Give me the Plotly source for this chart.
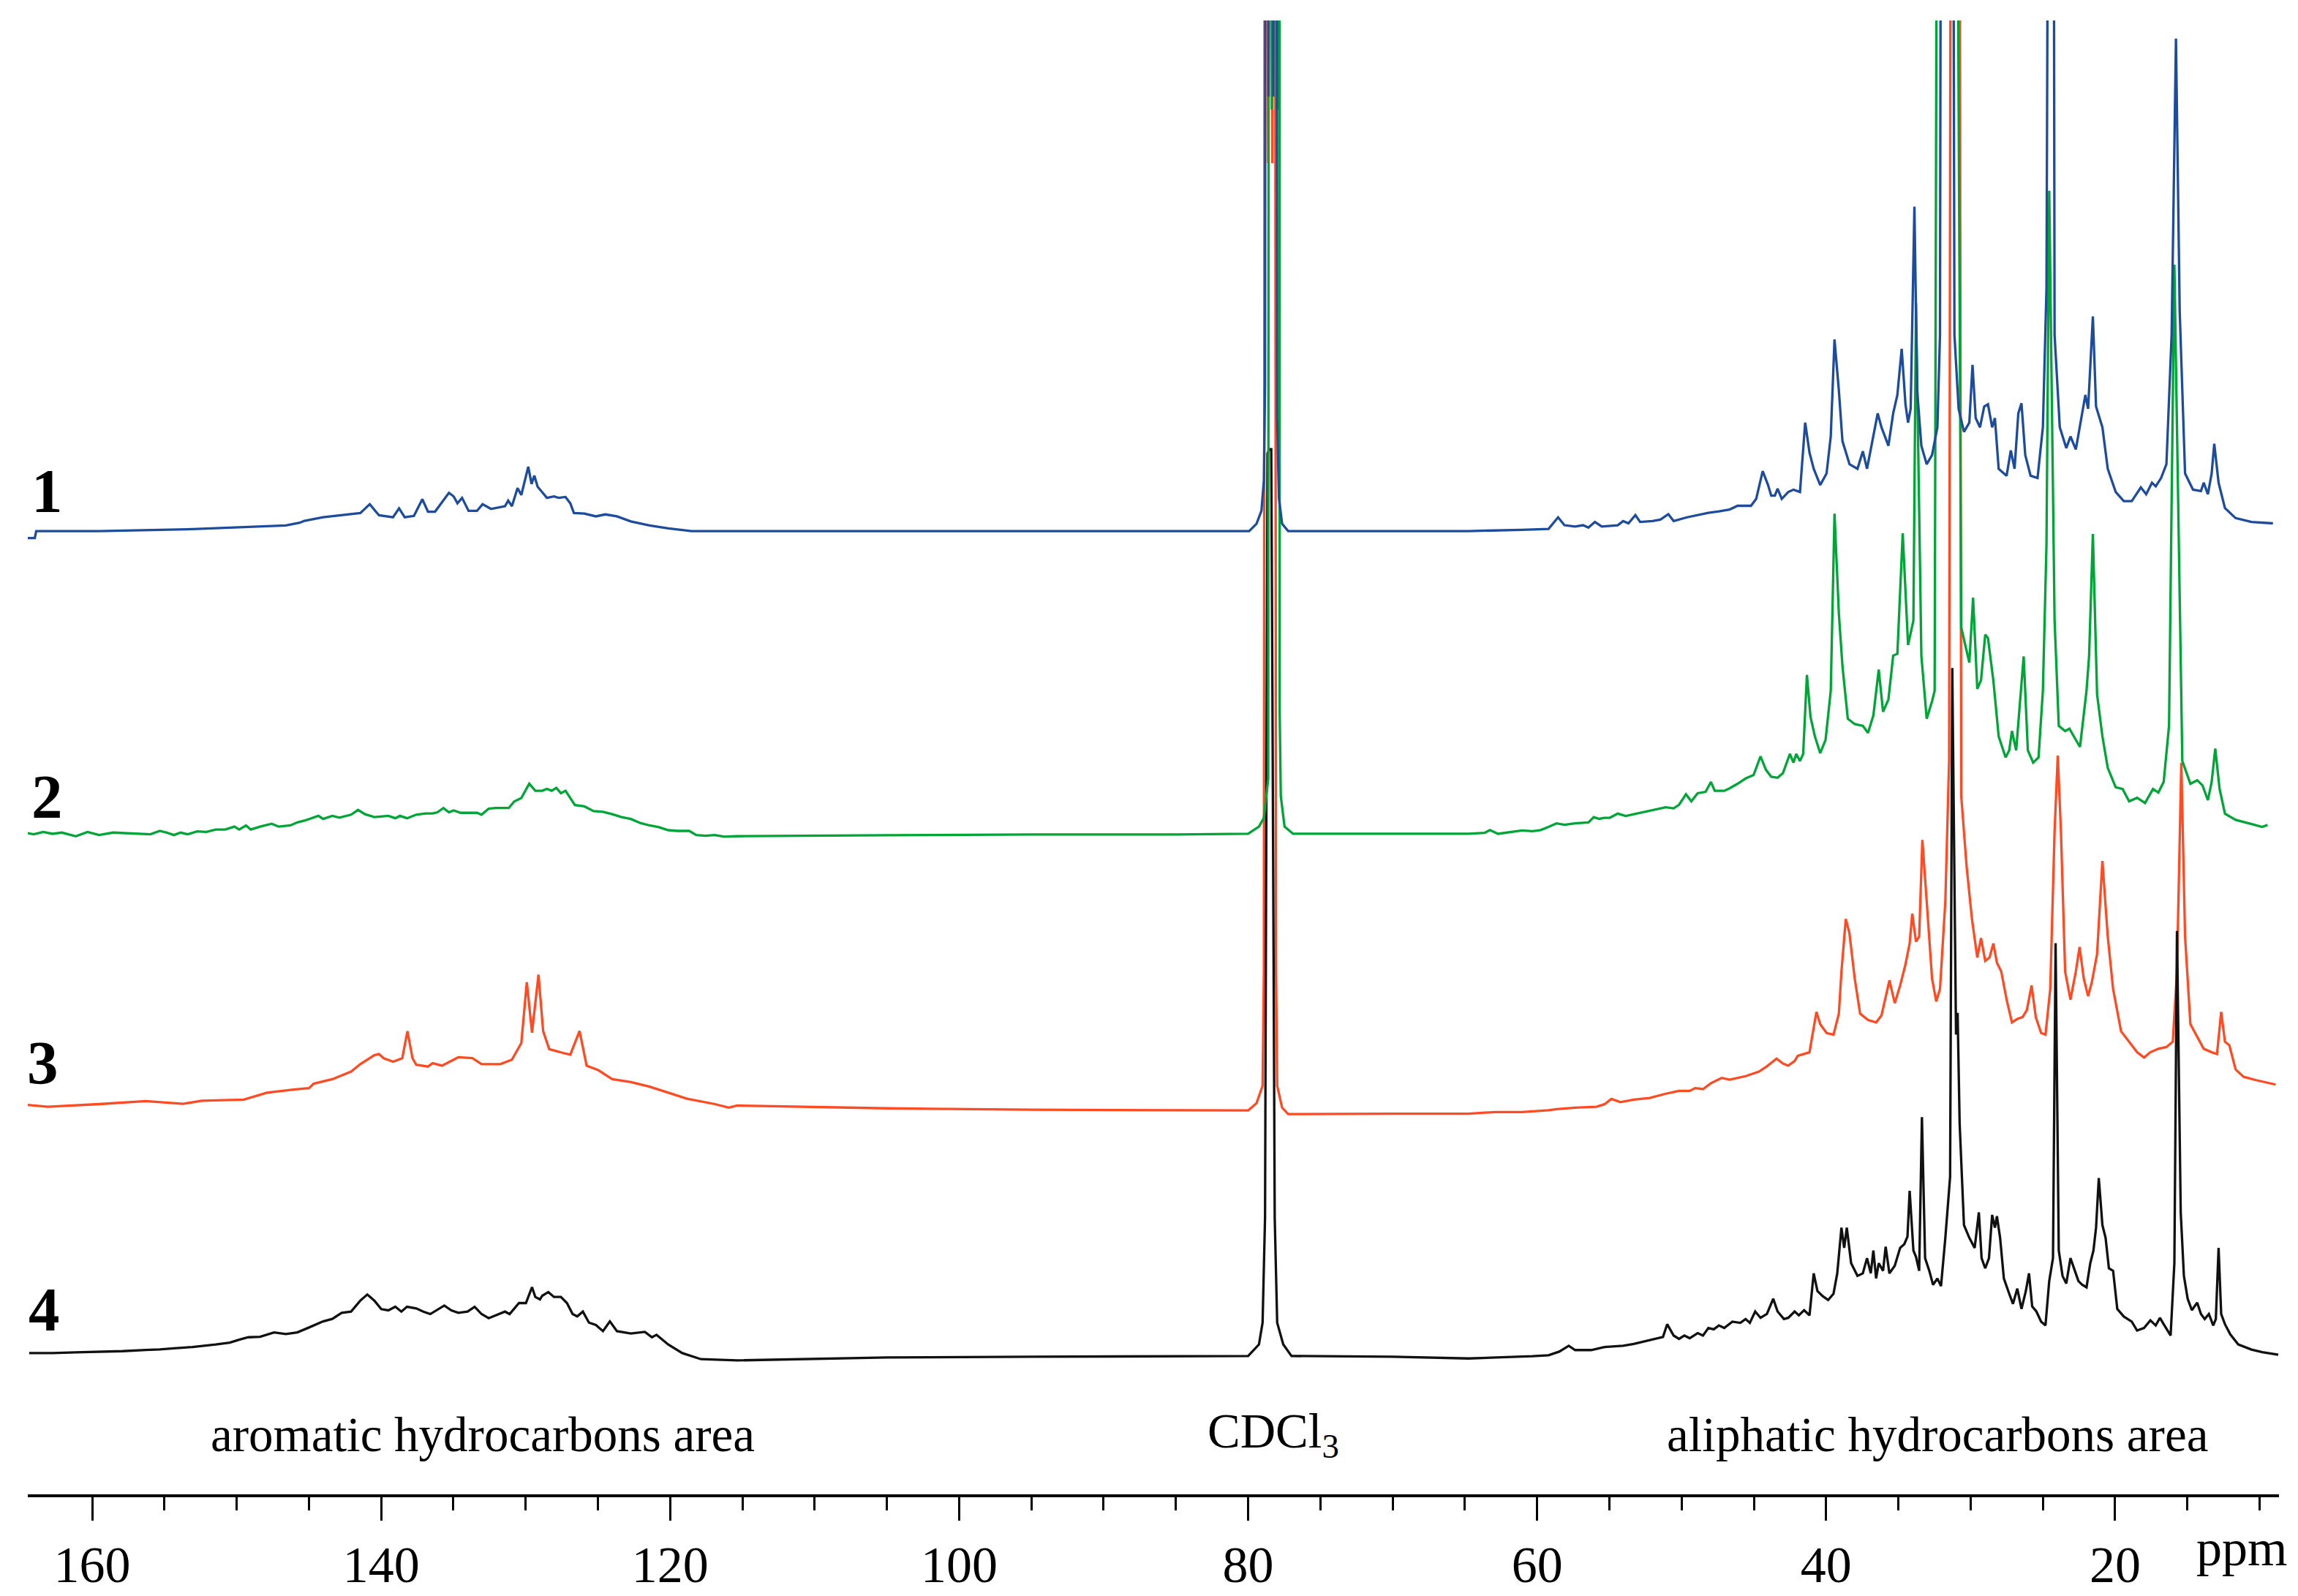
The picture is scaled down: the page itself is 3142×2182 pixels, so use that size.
import plotly.graph_objects as go

# ---------------- data (ppm, intensity above own baseline, arbitrary units) ----------------
SPECTRUM_LABELS = ["1", "2", "3", "4"]
SPECTRUM_COLORS = ["#1E4C9C", "#00A537", "#FF4B24", "#111111"]
BASELINE_OFFSETS = [1330, 912, 538, 195]

S1 = [  # blue
    (164.74, -9.6), (163.97, -9.6), (163.87, 0), (159.52, 0), (153.06, 2.7), (146.60, 7.7),
    (145.64, 11.5), (145.31, 14.2), (144.02, 19.1), (141.44, 24.9), (140.79, 37.1), (140.15, 21.8),
    (139.18, 19.1), (138.76, 31.4), (138.37, 19.1), (137.73, 21.0), (137.15, 44.0), (136.76, 26.8),
    (136.27, 26.8), (135.31, 52.8), (134.98, 47.8), (134.72, 38.3), (134.40, 45.9), (133.95, 27.9),
    (133.37, 27.9), (132.98, 37.1), (132.40, 30.6), (131.43, 34.4), (131.21, 42.1), (130.95, 34.4),
    (130.56, 59.3), (130.30, 49.8), (129.82, 88.8), (129.59, 65.1), (129.40, 76.5), (129.17, 61.2),
    (128.85, 53.6), (128.53, 45.9), (128.04, 47.8), (127.72, 45.9), (127.24, 47.1), (126.91, 38.3),
    (126.66, 24.9), (125.94, 24.1), (125.14, 20.3), (124.49, 23.0), (123.69, 20.3), (122.72, 13.4),
    (121.43, 7.7), (120.13, 3.8), (118.52, 0), (115.36, 0), (100, 0), (85, 0), (80.6, 0),
    (79.93, 0), (79.42, 10), (79.08, 28), (78.91, 70), (78.83, 204), (78.74, 2500), (78.58, 600),
    (78.42, 2500), (78.26, 600), (78.06, 2500), (77.99, 155), (77.87, 46), (77.65, 10), (77.23, 0),
    (70, 0), (64.74, 0), (61.05, 1.7), (59.21, 3), (58.55, 19), (58.11, 8.1), (57.37, 6.2),
    (56.82, 8.1), (56.45, 4.9), (56.00, 12.6), (55.53, 6.2), (54.42, 8.1), (54.05, 13.8),
    (53.68, 10.7), (53.20, 22.1), (52.87, 12.6), (52.02, 13.8), (51.47, 15.8), (50.92, 23.4),
    (50.55, 13.8), (49.63, 19), (48.89, 22.1), (48.15, 25.3), (47.42, 27.2), (46.68, 29.8),
    (46.13, 34.9), (45.20, 34.9), (44.84, 44.5), (44.39, 82.7), (44.02, 63.6), (43.80, 48.9),
    (43.55, 48.9), (43.36, 58.5), (43.07, 44.5), (42.62, 54), (42.26, 57.2), (41.81, 54),
    (41.45, 149.7), (41.15, 108.2), (40.86, 86), (40.41, 63.6), (39.97, 79.5), (39.68, 130.6),
    (39.42, 264.5), (39.12, 194.3), (38.87, 124.2), (38.38, 92.3), (37.83, 86), (37.46, 110.2),
    (37.17, 86), (36.73, 133.8), (36.43, 162.5), (36.17, 143.3), (35.69, 117.8), (35.36, 162.5),
    (35.07, 188), (34.77, 251.7), (34.51, 175.2), (34.33, 149.7), (34.15, 168.8), (33.89, 448),
    (33.70, 194.3), (33.41, 117.8), (33.04, 92.3), (32.67, 105), (32.30, 143.3), (32.12, 270.9),
    (31.93, 2500), (31.38, 2500), (31.12, 270.9), (30.83, 168.8), (30.46, 137), (30.09, 149.7),
    (29.87, 229.4), (29.65, 156.1), (29.35, 143.3), (29.06, 172), (28.80, 175.2), (28.51, 143.3),
    (28.32, 156.1), (28.06, 86), (27.51, 76.4), (27.22, 111.4), (26.96, 86), (26.70, 162.5),
    (26.48, 176.5), (26.22, 105), (25.85, 76.4), (25.37, 73.2), (25.00, 143.3), (24.75, 334.7),
    (24.56, 2500), (24.38, 2500), (24.19, 270.9), (23.83, 143.3), (23.38, 114.6), (23.09, 130.6),
    (22.72, 112.7), (22.35, 156.1), (22.06, 188), (21.87, 168.8), (21.54, 296.4), (21.32, 172),
    (20.88, 143.3), (20.51, 86), (19.96, 54), (19.40, 41.3), (18.85, 41.3), (18.22, 60.4),
    (17.85, 50.8), (17.45, 66.8), (17.19, 61.7), (16.82, 73.2), (16.45, 92.3), (16.09, 270.9),
    (15.79, 680), (15.53, 302.8), (15.16, 79.5), (14.61, 57.2), (14.06, 55.3), (13.87, 66.8),
    (13.58, 50.8), (13.32, 79.5), (13.14, 120.6), (12.84, 66.8), (12.40, 31.7), (11.66, 17.9),
    (10.56, 12.6), (9.08, 10.7),
]

S2 = [  # green
    (164.68, 1.7), (164.04, -0.7), (163.39, 2.6), (162.74, 0), (162.10, 1.7), (161.13, -3.3),
    (160.32, 2.6), (159.52, -1.7), (158.55, 1.7), (157.58, 0.7), (156.61, 0), (155.97, -0.7),
    (155.32, 4.0), (154.84, 1.7), (154.35, -1.7), (153.87, 1.7), (153.38, -0.7), (152.74, 3.3),
    (152.09, 2.6), (151.45, 5.9), (150.80, 5.9), (150.15, 9.9), (149.83, 5.9), (149.35, 11.6),
    (149.03, 5.9), (148.38, 9.9), (147.57, 13.9), (147.09, 9.9), (146.28, 11.6), (145.80, 15.8),
    (145.31, 18.2), (144.67, 23.1), (144.34, 24.8), (144.02, 20.5), (143.38, 24.8), (142.89, 22.4),
    (142.40, 24.8), (142.08, 26.4), (141.60, 33.0), (141.12, 27.1), (140.47, 23.1), (139.99, 23.8),
    (139.50, 24.8), (139.02, 21.5), (138.70, 24.8), (138.21, 21.5), (137.57, 26.4), (136.92, 28.1),
    (136.44, 28.1), (136.11, 29.7), (135.69, 35.6), (135.31, 29.7), (134.98, 32.3), (134.50, 29.0),
    (134.02, 29.0), (133.37, 29.0), (133.05, 26.4), (132.56, 34.7), (132.08, 35.6), (131.17, 35.6),
    (130.79, 44.6), (130.30, 49.5), (129.75, 69.3), (129.33, 59.4), (128.85, 59.4), (128.53, 62.0),
    (128.20, 59.4), (127.88, 63.4), (127.56, 56.1), (127.24, 59.4), (126.59, 39.6), (125.94, 37.9),
    (125.30, 31.4), (124.65, 30.4), (124.01, 27.1), (123.36, 23.1), (122.72, 20.5), (122.07, 14.9),
    (121.43, 11.6), (120.78, 9.2), (120.13, 5.0), (119.49, 4.0), (118.68, 4.0), (118.19, -1.7),
    (117.55, -2.6), (116.91, -1.7), (116.26, -4.0), (115.36, -3.3),
    (105, -2), (95, -1), (85, -1), (80, 0), (79.25, 10), (78.91, 22),
    (78.61, 76), (78.54, 2500), (78.36, 1000), (78.18, 2500), (78.00, 1000), (77.84, 2500),
    (77.82, 172), (77.74, 52), (77.48, 10), (76.89, 0), (70, 0),
    (64.74, 0), (63.63, 1.3), (63.27, 5.2), (62.71, 0), (61.79, 2.7), (61.05, 4.7), (60.32, 3.7),
    (59.76, 5.2), (59.21, 9.5), (58.66, 14.4), (58.11, 12.4), (57.37, 14.4), (56.45, 15.8),
    (56.08, 23.1), (55.71, 20.7), (55.34, 22.1), (54.97, 22.1), (54.42, 27.9), (53.87, 24.6),
    (53.31, 27), (52.58, 30.4), (51.84, 32.8), (51.10, 36.7), (50.55, 35.2), (50.18, 40.1),
    (49.70, 54.6), (49.33, 44.9), (48.89, 56.1), (48.34, 58), (47.97, 71.6), (47.71, 59.4),
    (47.05, 59.4), (46.68, 62.8), (46.13, 69.1), (45.57, 76.4), (45.02, 81.3), (44.54, 107),
    (44.17, 88.5), (43.80, 78.8), (43.36, 77.4), (42.99, 83.7), (42.51, 110.3), (42.26, 98.2),
    (42.07, 110.3), (41.81, 100.6), (41.59, 110.3), (41.33, 219.4), (41.08, 161.2), (40.78, 134.6),
    (40.41, 111.3), (40.04, 129.7), (39.68, 197.6), (39.42, 442), (39.12, 304.2), (38.87, 231.5),
    (38.50, 158.8), (38.02, 151.5), (37.46, 149.1), (37.10, 139.4), (36.73, 163.7), (36.36, 226.7),
    (36.06, 168.5), (35.69, 185.5), (35.36, 246.1), (35.07, 248.5), (34.70, 415), (34.33, 260.6),
    (33.96, 294.5), (33.78, 733), (33.41, 246), (33.04, 158.8), (32.67, 183), (32.49, 197.6),
    (32.19, 2500), (31.20, 2500), (30.65, 284.8), (30.28, 250.9), (30.09, 236.4), (29.83, 326),
    (29.54, 200), (29.28, 212.1), (28.99, 275.1), (28.80, 270.3), (28.43, 212.1), (28.06, 134.6),
    (27.58, 105.5), (27.33, 115.2), (27.14, 141.9), (26.85, 115.2), (26.59, 183), (26.33, 245),
    (26.04, 115.2), (25.67, 98.2), (25.30, 105.5), (25.00, 197.6), (24.75, 400), (24.56, 888),
    (24.19, 294.5), (23.90, 149.1), (23.46, 141.9), (23.16, 145.2), (22.72, 129.7), (22.43, 120),
    (21.98, 197.6), (21.80, 246.1), (21.54, 414), (21.25, 192.7), (20.88, 134.6), (20.51, 91),
    (19.96, 64.3), (19.48, 61.9), (19.03, 44.9), (18.48, 49.8), (17.93, 42.5), (17.38, 61.9),
    (17.01, 57), (16.64, 71.6), (16.27, 149.1), (15.90, 786), (15.35, 100.6), (14.79, 69.1),
    (14.32, 74), (13.95, 66.7), (13.58, 46.4), (13.32, 71.6), (13.07, 117.6), (12.77, 61.9),
    (12.40, 27.9), (11.66, 19.2), (10.56, 13.4), (9.82, 9.5), (9.45, 12.4),
]

S3 = [  # red
    (164.62, 0), (163.07, -2.9), (159.52, 0.8), (156.29, 5), (153.71, 1.2), (152.41, 5.4),
    (149.51, 7), (147.90, 16.6), (145.96, 21.1), (144.99, 22.8), (144.67, 29), (143.38, 35.2),
    (142.08, 45.6), (141.44, 56), (140.47, 68.4), (140.15, 70), (139.83, 64.2), (139.18, 59.3),
    (138.54, 64.2), (138.18, 101.6), (137.83, 64.2), (137.57, 55.1), (136.76, 52.6), (136.44, 57.2),
    (135.79, 53.9), (134.66, 65.5), (133.69, 64.2), (133.05, 56), (131.75, 56), (130.95, 62.2),
    (130.30, 85), (129.92, 169.1), (129.56, 99.5), (129.11, 179.5), (128.79, 101.6), (128.37, 76.7),
    (127.24, 70.5), (126.91, 69.2), (126.27, 101.6), (125.78, 53.9), (124.98, 47.7), (124.01, 35.2),
    (122.72, 31.1), (121.43, 24.9), (120.13, 16.6), (118.84, 8.3), (116.91, 0.8), (115.94, -4.1),
    (115.36, -1.2), (105, -5), (95, -7), (85, -8), (80, -8), (79.42, 2), (79.0, 26),
    (78.91, 184), (78.83, 2500), (78.61, 1300), (78.50, 2500), (78.33, 1300), (78.16, 2500),
    (78.07, 184), (77.99, 26), (77.65, -4), (77.23, -13), (70, -12.5),
    (64.74, -12.5), (62.90, -10.1), (61.05, -10.1), (59.21, -7.6), (58.66, -6.2), (57.37, -4.2),
    (55.89, -2.8), (55.34, 0.6), (54.86, 7.9), (54.24, 3.5), (53.31, 6.9), (52.21, 9.3),
    (51.10, 15.2), (50.18, 19), (49.44, 19), (49.07, 22.9), (48.52, 21.5), (47.97, 29.7),
    (47.23, 37), (46.68, 34.6), (45.57, 39.4), (44.65, 45.7), (44.10, 53), (43.43, 63.6),
    (42.99, 56.8), (42.62, 53.9), (42.18, 60.2), (41.96, 67.5), (41.52, 69.9), (41.15, 72.4),
    (40.86, 106.3), (40.67, 128.1), (40.41, 111.1), (39.97, 99), (39.49, 96.6), (39.12, 125.7),
    (38.94, 183.8), (38.64, 256.5), (38.39, 237.1), (38.02, 174.1), (37.65, 125.7), (37.10, 116.9),
    (36.54, 113.6), (36.17, 123.3), (35.81, 154.8), (35.62, 171.7), (35.25, 140.2), (34.88, 164.5),
    (34.51, 193.5), (34.22, 222.6), (34.04, 263.8), (33.78, 225), (33.56, 232.3), (33.34, 365.6),
    (33.04, 280.8), (32.67, 174.1), (32.38, 142.6), (32.12, 159.6), (31.75, 280.8), (31.49, 474.7),
    (31.31, 2500), (30.83, 2500), (30.65, 426.2), (30.28, 329.2), (29.91, 256.5), (29.54, 203.2),
    (29.28, 229.9), (28.99, 198.4), (28.69, 203.2), (28.43, 222.6), (28.18, 195.9), (27.88, 183.8),
    (27.51, 145.1), (27.14, 113.6), (26.77, 118.4), (26.41, 120.8), (26.11, 130.5), (25.78, 164.5),
    (25.49, 120.8), (25.12, 99), (24.82, 96.6), (24.49, 159.6), (24.19, 377.7), (23.97, 481.9),
    (23.75, 377.7), (23.46, 183.8), (23.09, 145.1), (22.72, 183.8), (22.46, 217.8), (22.17, 174.1),
    (21.87, 149.9), (21.61, 169.3), (21.25, 208.1), (21.06, 280.8), (20.88, 336.5), (20.51, 232.3),
    (20.14, 159.6), (19.59, 101.4), (19.03, 86.9), (18.48, 72.4), (18.00, 65.1), (17.56, 72.4),
    (17.01, 77.2), (16.45, 79.6), (16.01, 86.9), (15.72, 183.8), (15.42, 472.2), (15.16, 232.3),
    (14.79, 111.1), (14.32, 94.1), (13.87, 77.2), (13.32, 72.4), (12.95, 69.9), (12.66, 128.1),
    (12.40, 86.9), (12.10, 82.2), (11.66, 48.6), (11.11, 38.5), (10.19, 33.6), (8.90, 27.8),
]

S4 = [  # black
    (164.36, 0), (162.74, 0), (161.13, 1.0), (159.52, 1.7), (157.90, 2.7), (156.29, 4.4),
    (155.32, 5.1), (154.35, 6.7), (153.06, 8.4), (151.45, 11.8), (150.48, 14.5), (149.83, 18.5),
    (149.19, 21.9), (148.38, 22.6), (147.41, 28.6), (146.60, 26.3), (145.80, 28.6), (144.99, 35.4),
    (144.02, 43.8), (143.38, 47.2), (142.73, 55.6), (142.08, 57.3), (141.44, 72.5), (140.96, 80.9),
    (140.47, 72.5), (139.99, 60.7), (139.50, 59.0), (139.02, 64.0), (138.60, 57.3), (138.21, 64.0),
    (137.57, 61.7), (137.08, 57.3), (136.60, 53.9), (135.63, 65.7), (135.14, 59.0), (134.66, 55.6),
    (134.02, 57.3), (133.53, 64.0), (133.05, 53.9), (132.56, 48.2), (132.08, 52.2), (131.43, 57.3),
    (131.11, 53.9), (130.46, 69.1), (129.98, 69.1), (129.56, 91.0), (129.33, 77.5), (129.01, 74.1),
    (128.85, 79.2), (128.43, 84.3), (128.04, 77.5), (127.56, 77.5), (127.14, 69.1), (126.75, 53.9),
    (126.43, 50.6), (126.04, 57.3), (125.62, 42.1), (125.14, 38.8), (124.65, 30.3), (124.17, 43.8),
    (123.68, 30.3), (122.72, 27.0), (121.75, 29.3), (121.26, 21.9), (120.94, 25.3), (120.13, 11.8),
    (119.16, 0), (117.87, -8.4), (115.36, -10.1),
    (105, -6), (95, -5), (85, -4), (80, -4), (79.25, 12),
    (79.0, 42), (78.83, 187), (78.78, 527), (78.66, 1242), (78.54, 1248), (78.40, 1248),
    (78.32, 915), (78.24, 527), (78.16, 187), (77.99, 42), (77.57, 12), (77.0, -4), (70, -5),
    (64.74, -7.4), (63.27, -6.4), (61.79, -5.7), (60.32, -4.3), (59.21, -2.9), (58.47, 2),
    (57.81, 10.1), (57.37, 4.2), (56.26, 4.2), (55.34, 8.4), (54.79, 9.1), (54.05, 10.1),
    (53.31, 12.6), (52.58, 16.1), (51.66, 20.6), (51.29, 22.4), (51.0, 39.9), (50.55, 24.2),
    (50.18, 19.6), (49.81, 24.2), (49.44, 20.6), (48.89, 27.6), (48.52, 24.2), (48.15, 34.7),
    (47.78, 32.9), (47.42, 38.2), (47.05, 34.7), (46.49, 43.4), (45.94, 41.7), (45.57, 47),
    (45.28, 41.7), (44.91, 57.5), (44.54, 48.7), (44.10, 54), (43.66, 75), (43.36, 57.5),
    (42.92, 47), (42.62, 48.7), (42.18, 57.5), (41.89, 52.2), (41.52, 59.2), (41.15, 52.2),
    (40.86, 110.1), (40.60, 85.5), (40.23, 78.5), (39.86, 73.3), (39.49, 82), (39.23, 110.1),
    (38.94, 173.2), (38.75, 145.2), (38.57, 173.2), (38.27, 124.1), (37.83, 106.6), (37.46, 110.1),
    (37.17, 131.1), (36.91, 110.1), (36.73, 141.7), (36.54, 103.1), (36.36, 124.1), (36.06, 113.6),
    (35.88, 146.9), (35.62, 110.1), (35.25, 120.6), (34.88, 145.2), (34.59, 150.4), (34.37, 160.9),
    (34.22, 224.1), (33.96, 141.7), (33.78, 132.9), (33.56, 113.6), (33.37, 325.8), (33.15, 131.1),
    (32.86, 113.6), (32.60, 94.3), (32.30, 103.1), (32.05, 92.5), (31.75, 159.2), (31.57, 211.8),
    (31.42, 243.4), (31.27, 946), (31.01, 439.8), (30.90, 469.7), (30.76, 317.1), (30.46, 176.7),
    (30.09, 159.2), (29.72, 145.2), (29.43, 194.3), (29.24, 131.1), (28.99, 117.1), (28.73, 131.1),
    (28.51, 190.8), (28.32, 173.2), (28.18, 189), (27.96, 159.2), (27.70, 103.1), (27.33, 82),
    (27.07, 68), (26.77, 89), (26.48, 61), (26.18, 85.5), (25.96, 110.1), (25.74, 64.5),
    (25.45, 57.5), (25.12, 43.4), (24.82, 38.2), (24.56, 99.6), (24.30, 131.1), (24.12, 566),
    (23.90, 141.7), (23.64, 106.6), (23.38, 96.1), (23.09, 131.1), (22.79, 113.6), (22.54, 99.6),
    (22.28, 94.3), (21.98, 90.8), (21.72, 124.1), (21.50, 141.7), (21.32, 173.2), (21.13, 241.6),
    (20.88, 176.7), (20.66, 159.2), (20.43, 117.1), (20.14, 113.6), (19.85, 61), (19.40, 50.5),
    (18.85, 43.4), (18.48, 31.2), (18.00, 34.7), (17.56, 45.2), (17.19, 38.2), (16.90, 48.7),
    (16.64, 40), (16.16, 24.2), (15.90, 124.1), (15.72, 583), (15.46, 194.3), (15.24, 106.6),
    (14.98, 75), (14.69, 59.2), (14.32, 69.7), (14.06, 53.9), (13.80, 47), (13.51, 54),
    (13.21, 38.2), (13.03, 47), (12.84, 145.2), (12.66, 54), (12.40, 39.9), (12.03, 25.9),
    (11.48, 11.9), (10.56, 4.9), (9.82, 1.3), (8.71, -2.2),
]

SPECTRA = [S1, S2, S3, S4]
DRAW_ORDER = [2, 3, 1, 0]          # red, black, green, blue (blue on top)

X_RANGE = [164.454, 8.66]
MAJOR_TICKS = [160, 140, 120, 100, 80, 60, 40, 20]
TICK_TEXT = ["160", "140", "120", "100", "80", "60", "40", "20"]

LABEL_POS = [(0.00877, 1386), (0.00877, 963), (0.00682, 596), (0.00715, 256)]
REGION_TEXT = [
    ("aromatic hydrocarbons area", 0.2021, 83),
    ("CDCl<sub>3</sub>", 0.5533, 83),
    ("aliphatic hydrocarbons area", 0.8483, 83),
]

# ---------------- figure ----------------
SERIF = "Liberation Serif, Times New Roman, serif"
fig = go.Figure()

for idx in DRAW_ORDER:
    pts = SPECTRA[idx]
    xs = [p[0] for p in pts]
    ys = [p[1] + BASELINE_OFFSETS[idx] for p in pts]
    fig.add_trace(go.Scatter(
        x=xs, y=ys, mode="lines",
        line=dict(color=SPECTRUM_COLORS[idx], width=3.3),
        hoverinfo="skip", showlegend=False,
    ))

annotations = []
for lab, (px, yv) in zip(SPECTRUM_LABELS, LABEL_POS):
    annotations.append(dict(
        text=lab, x=px, xref="paper", y=yv, yref="y",
        xanchor="center", yanchor="middle", showarrow=False,
        font=dict(family=SERIF, size=85, color="black", weight="bold"),
    ))
for txt, px, yv in REGION_TEXT:
    annotations.append(dict(
        text=txt, x=px, xref="paper", y=yv, yref="y",
        xanchor="center", yanchor="middle", showarrow=False,
        font=dict(family=SERIF, size=67, color="black"),
    ))
annotations.append(dict(
    text="ppm", x=0.9834, xref="paper", y=-0.0364, yref="paper",
    xanchor="center", yanchor="middle", showarrow=False,
    font=dict(family=SERIF, size=70, color="black"),
))

fig.update_layout(
    width=3142, height=2182,
    margin=dict(l=30, r=34, t=20, b=127, pad=0),
    paper_bgcolor="white", plot_bgcolor="white",
    annotations=annotations,
    xaxis=dict(
        range=X_RANGE, showgrid=False, zeroline=False,
        showline=True, linecolor="black", linewidth=3.5,
        ticks="outside", ticklen=32, tickwidth=2.6, tickcolor="black",
        tickvals=MAJOR_TICKS, ticktext=TICK_TEXT,
        tickfont=dict(family=SERIF, size=70, color="black"),
        minor=dict(ticks="outside", ticklen=18, tickwidth=2.6, tickcolor="black",
                   dtick=5, tick0=0, showgrid=False),
    ),
    yaxis=dict(range=[0, 2035], visible=False, fixedrange=True),
)

fig.write_html("out.html")
